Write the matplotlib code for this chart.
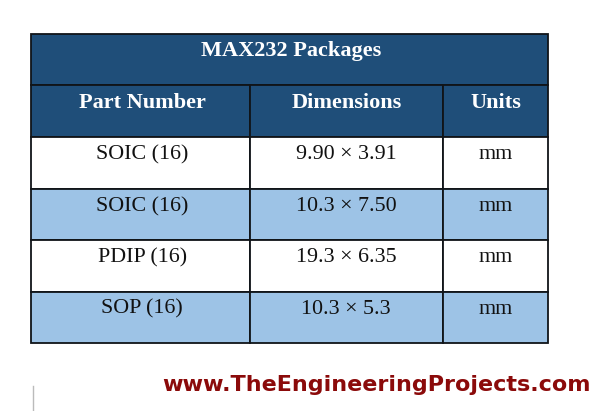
import matplotlib
matplotlib.use("Agg")
import matplotlib.pyplot as plt
from matplotlib.patches import Rectangle

TITLE = "MAX232 Packages"
COLUMNS = ["Part Number", "Dimensions", "Units"]
PARTS = ["SOIC (16)", "SOIC (16)", "PDIP (16)", "SOP (16)"]
DIMENSIONS = ["9.90 × 3.91", "10.3 × 7.50", "19.3 × 6.35", "10.3 × 5.3"]
UNITS = ["mm", "mm", "mm", "mm"]
WATERMARK = "www.TheEngineeringProjects.com"

# grid lines, in image pixels
X_EDGES = [31, 249.5, 443, 548]
Y_EDGES = [34, 85.5, 137, 189, 240, 291.5, 343]
# the first column's text sits a little right of centre
TEXT_SHIFT = [2, 0, 0]

NAVY = "#1f4e79"
LIGHT_BLUE = "#9dc3e6"
LINE = "#101418"
SERIF = "Liberation Serif"

fig = plt.figure(figsize=(6, 4.11), dpi=100)
ax = fig.add_axes([0, 0, 1, 1])
ax.set_xlim(0, 600)
ax.set_ylim(411, 0)
ax.axis("off")


def cell(x0, x1, y0, y1, color):
    ax.add_patch(Rectangle((x0, y0), x1 - x0, y1 - y0, facecolor=color,
                           edgecolor=LINE, linewidth=1.3))


def label(x, y, s, **kw):
    ax.text(x, y, s, family=SERIF, ha="center", va="baseline", **kw)


# title row
cell(X_EDGES[0], X_EDGES[3], Y_EDGES[0], Y_EDGES[1], NAVY)
label((X_EDGES[0] + X_EDGES[3]) / 2 + 1.5, Y_EDGES[0] + 22, TITLE,
      color="white", fontweight="bold", fontsize=16)

# column headers
for i, name in enumerate(COLUMNS):
    cell(X_EDGES[i], X_EDGES[i + 1], Y_EDGES[1], Y_EDGES[2], NAVY)
    label((X_EDGES[i] + X_EDGES[i + 1]) / 2 + TEXT_SHIFT[i], Y_EDGES[1] + 22, name,
          color="white", fontweight="bold", fontsize=16)

# body rows
for r in range(len(PARTS)):
    y0, y1 = Y_EDGES[r + 2], Y_EDGES[r + 3]
    fill = "white" if r % 2 == 0 else LIGHT_BLUE
    values = [PARTS[r], DIMENSIONS[r], UNITS[r]]
    for c, value in enumerate(values):
        cell(X_EDGES[c], X_EDGES[c + 1], y0, y1, fill)
        label((X_EDGES[c] + X_EDGES[c + 1]) / 2 + TEXT_SHIFT[c], y0 + 22, value,
              color="#111111", fontsize=15.8)

# watermark and the stray cursor line under the table
ax.text(162, 390.5, WATERMARK, family="DejaVu Sans", fontweight="bold",
        fontsize=16, color="#8b0a0a", ha="left", va="baseline")
ax.plot([33, 33], [386, 410], color="#bbbbbb", linewidth=1)

fig.savefig("out.png", dpi=100)
plt.close(fig)
